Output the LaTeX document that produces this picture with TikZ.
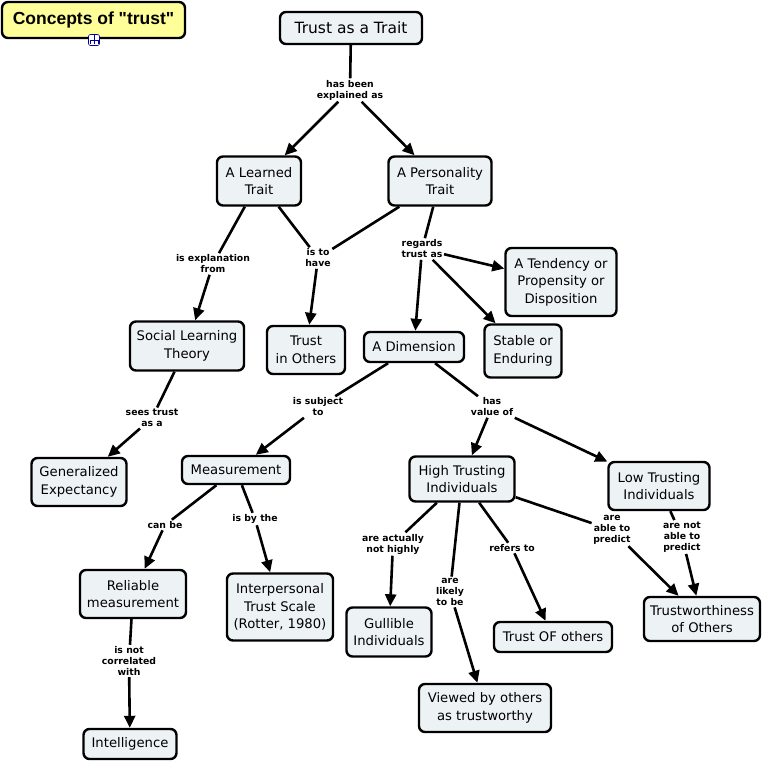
\documentclass[tikz,border=0pt]{standalone}
\usepackage{fontspec}
\setmainfont{DejaVu Sans}
\newfontfamily\titlefont{Liberation Sans}
\usetikzlibrary{arrows.meta}
\definecolor{cfill}{HTML}{EDF2F5}
\definecolor{tfill}{HTML}{FFFF99}
\begin{document}
\begin{tikzpicture}[x=1pt,y=-1pt,
  c/.style={draw=black,line width=2.4pt,rounded corners=6pt,fill=cfill,align=center,font=\fontsize{13.2}{17.5}\selectfont,inner sep=2pt},
  l/.style={align=center,font=\bfseries\fontsize{9.3}{11}\selectfont,inner sep=1.5pt,fill=white},
  ln/.style={line width=2.6pt},
  ar/.style={line width=2.6pt,-{Triangle[length=12pt,width=11pt]}}]
\useasboundingbox (0,0) rectangle (763,762);
% title
\node[draw=black,line width=2.4pt,rounded corners=6pt,fill=tfill,minimum width=183pt,minimum height=36pt,font=\titlefont\bfseries\fontsize{17.5}{20}\selectfont] (title) at (93.5,20) {Concepts of "trust"};
\node[draw=blue!60!black,fill=white,rounded corners=2pt,minimum width=11pt,minimum height=11pt,inner sep=0pt,line width=0.6pt] (icon) at (94,40) {};
\draw[blue!60!black,line width=0.6pt] (94,35) -- (94,44) (90,40) -- (98,40) (90,40)--(90,44) (98,40)--(98,44);
% concepts
\node[c,minimum width=142pt,minimum height=32pt,font=\fontsize{15.5}{18}\selectfont] (trait) at (351,28) {Trust as a Trait};
\node[c,minimum width=84pt,minimum height=49pt] (learned) at (259,181) {A Learned\\Trait};
\node[c,minimum width=103pt,minimum height=49pt] (pers) at (440,181) {A Personality\\Trait};
\node[c,minimum width=111pt,minimum height=68pt] (tend) at (561,282) {A Tendency or\\Propensity or\\Disposition};
\node[c,minimum width=114pt,minimum height=49pt] (slt) at (187,346) {Social Learning\\Theory};
\node[c,minimum width=78pt,minimum height=48pt] (tio) at (306,350) {Trust\\in Others};
\node[c,minimum width=100pt,minimum height=30pt] (dim) at (414,347) {A Dimension};
\node[c,minimum width=77pt,minimum height=53pt] (stable) at (523,351) {Stable or\\Enduring};
\node[c,minimum width=95pt,minimum height=48pt] (gen) at (79,482) {Generalized\\Expectancy};
\node[c,minimum width=108pt,minimum height=28pt] (meas) at (236,470) {Measurement};
\node[c,minimum width=105pt,minimum height=45pt] (high) at (462,479) {High Trusting\\Individuals};
\node[c,minimum width=101pt,minimum height=48pt] (low) at (659,486) {Low Trusting\\Individuals};
\node[c,minimum width=106pt,minimum height=48pt] (rel) at (133,594) {Reliable\\measurement};
\node[c,minimum width=106pt,minimum height=67pt] (its) at (280,607) {Interpersonal\\Trust Scale\\(Rotter, 1980)};
\node[c,minimum width=85pt,minimum height=49pt] (gull) at (389,632) {Gullible\\Individuals};
\node[c,minimum width=118pt,minimum height=30pt] (tof) at (553,637) {Trust OF others};
\node[c,minimum width=116pt,minimum height=44pt] (tw) at (702,619) {Trustworthiness\\of Others};
\node[c,minimum width=132pt,minimum height=48pt] (viewed) at (485,708) {Viewed by others\\as trustworthy};
\node[c,minimum width=93pt,minimum height=30pt] (intel) at (130,744) {Intelligence};
% labels
\node[l] (l1) at (350,90) {has been\\explained as};
\node[l] (l2) at (213,264) {is explanation\\from};
\node[l] (l3) at (318,258) {is to\\have};
\node[l] (l4) at (422,249) {regards\\trust as};
\node[l] (l5) at (152,418) {sees trust\\as a};
\node[l] (l6) at (318,407) {is subject\\to};
\node[l] (l7) at (492,407) {has\\value of};
\node[l] (l8) at (165,525) {can be};
\node[l] (l9) at (255,519) {is by the};
\node[l] (l10) at (393,544) {are actually\\not highly};
\node[l] (l11) at (512,548) {refers to};
\node[l] (l12) at (612,530) {are\\able to\\predict};
\node[l] (l13) at (682,537) {are not\\able to\\predict};
\node[l] (l14) at (450,592) {are\\likely\\to be};
\node[l] (l15) at (129,661) {is not\\correlated\\with};
% links
\draw[ln] (trait) -- (l1); \draw[ar] (l1) -- (learned); \draw[ar] (l1) -- (pers);
\draw[ln] (learned) -- (l2); \draw[ar] (l2) -- (slt);
\draw[ln] (learned) -- (l3); \draw[ln] (pers) -- (l3); \draw[ar] (l3) -- (tio);
\draw[ln] (pers) -- (l4); \draw[ar] (l4) -- (tend); \draw[ar] (l4) -- (stable); \draw[ar] (l4) -- (dim);
\draw[ln] (slt) -- (l5); \draw[ar] (l5) -- (gen);
\draw[ln] (dim) -- (l6); \draw[ar] (l6) -- (meas);
\draw[ln] (dim) -- (l7); \draw[ar] (l7) -- (high); \draw[ar] (l7) -- (low);
\draw[ln] (meas) -- (l8); \draw[ar] (l8) -- (rel);
\draw[ln] (meas) -- (l9); \draw[ar] (l9) -- (its);
\draw[ln] (rel) -- (l15); \draw[ar] (l15) -- (intel);
\draw[ln] (high) -- (l10); \draw[ar] (l10) -- (gull);
\draw[ln] (high) -- (l14); \draw[ar] (l14) -- (viewed);
\draw[ln] (high) -- (l11); \draw[ar] (l11) -- (tof);
\draw[ln] (high) -- (l12); \draw[ar] (l12) -- (tw);
\draw[ln] (low) -- (l13); \draw[ar] (l13) -- (tw);
\end{tikzpicture}
\end{document}
